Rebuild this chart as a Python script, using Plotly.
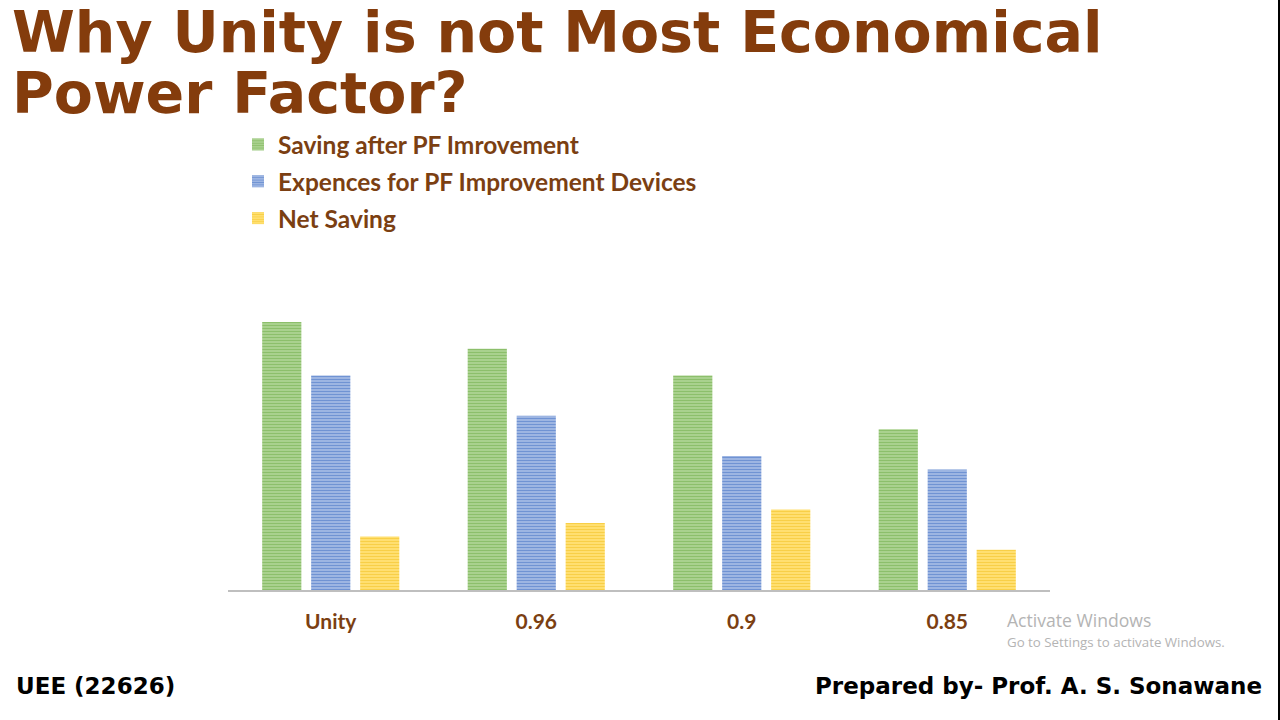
import plotly.graph_objects as go

categories = ["Unity", "0.96", "0.9", "0.85"]
saving = [10, 9, 8, 6]
expences = [8, 6.5, 5, 4.5]
net_saving = [2, 2.5, 3, 1.5]
series_names = ["Saving after PF Imrovement", "Expences for PF Improvement Devices", "Net Saving"]

W, H = 1280, 720
L, R, T, B = 228, 1050, 255, 590


def px(x):
    return (x - L) / (R - L)


def py(y):
    return (B - y) / (B - T)


BROWN = "#843C0C"
LBROWN = "#7B3F12"

styles = [
    ("#a9d18e", "#70ad47"),
    ("#9db5e2", "#4472c4"),
    ("#ffdf70", "#f2c01e"),
]

fig = go.Figure()
for name, vals, (bg, fg) in zip(series_names, [saving, expences, net_saving], styles):
    fig.add_trace(go.Bar(
        x=categories, y=vals, name=name, legendgroup=name,
        marker=dict(color=bg, line=dict(width=0),
                    pattern=dict(shape="-", fgcolor=fg, bgcolor=bg, size=3, solidity=0.35)),
    ))

fig.update_layout(
    width=W, height=H,
    margin=dict(l=L, r=W - R, t=T, b=H - B, autoexpand=False),
    paper_bgcolor="white", plot_bgcolor="white",
    barmode="group", bargap=0.285, bargroupgap=0.2,
    showlegend=True,
    legend=dict(
        xref="container", yref="container", x=238 / W, y=1 - 122 / H,
        xanchor="left", yanchor="top", orientation="v",
        font=dict(family="Lato", size=24.5, color=LBROWN, weight="bold"),
        tracegroupgap=2, itemwidth=30, bgcolor="rgba(0,0,0,0)",
    ),
    xaxis=dict(
        showline=True, linecolor="#bfbfbf", linewidth=1.5, showgrid=False, zeroline=False,
        ticks="outside", ticklen=12, tickcolor="rgba(0,0,0,0)",
        tickfont=dict(family="Lato", size=21, color=LBROWN, weight="bold"),
    ),
    yaxis=dict(range=[0, (B - T) / 26.8], visible=False, showgrid=False),
)

ann = [
    dict(text="Why Unity is not Most Economical", x=px(10), y=py(32), size=57,
         family="DejaVu Sans", color=BROWN, xanchor="left"),
    dict(text="Power Factor?", x=px(10), y=py(93), size=57,
         family="DejaVu Sans", color=BROWN, xanchor="left"),
    dict(text="UEE (22626)", x=px(14), y=py(686), size=23,
         family="DejaVu Sans", color="black", xanchor="left"),
    dict(text="Prepared by- Prof. A. S. Sonawane", x=px(1264), y=py(686), size=23,
         family="DejaVu Sans", color="black", xanchor="right"),
]
for a in ann:
    fig.add_annotation(text="<b>" + a["text"] + "</b>", x=a["x"], y=a["y"], xref="paper", yref="paper",
                       xanchor=a["xanchor"], yanchor="middle", showarrow=False,
                       font=dict(family=a["family"], size=a["size"], color=a["color"]))

fig.add_annotation(text="Activate Windows", x=px(1005), y=py(620), xref="paper", yref="paper",
                   xanchor="left", yanchor="middle", showarrow=False,
                   font=dict(family="Open Sans", size=17.6, color="#b4b4b4"))
fig.add_annotation(text="Go to Settings to activate Windows.", x=px(1005), y=py(642), xref="paper", yref="paper",
                   xanchor="left", yanchor="middle", showarrow=False,
                   font=dict(family="Open Sans", size=13.3, color="#b4b4b4"))

fig.add_shape(type="line", xref="paper", yref="paper", x0=px(1279), x1=px(1279), y0=py(0), y1=py(720),
              line=dict(color="black", width=2))

fig.write_html("out.html")
